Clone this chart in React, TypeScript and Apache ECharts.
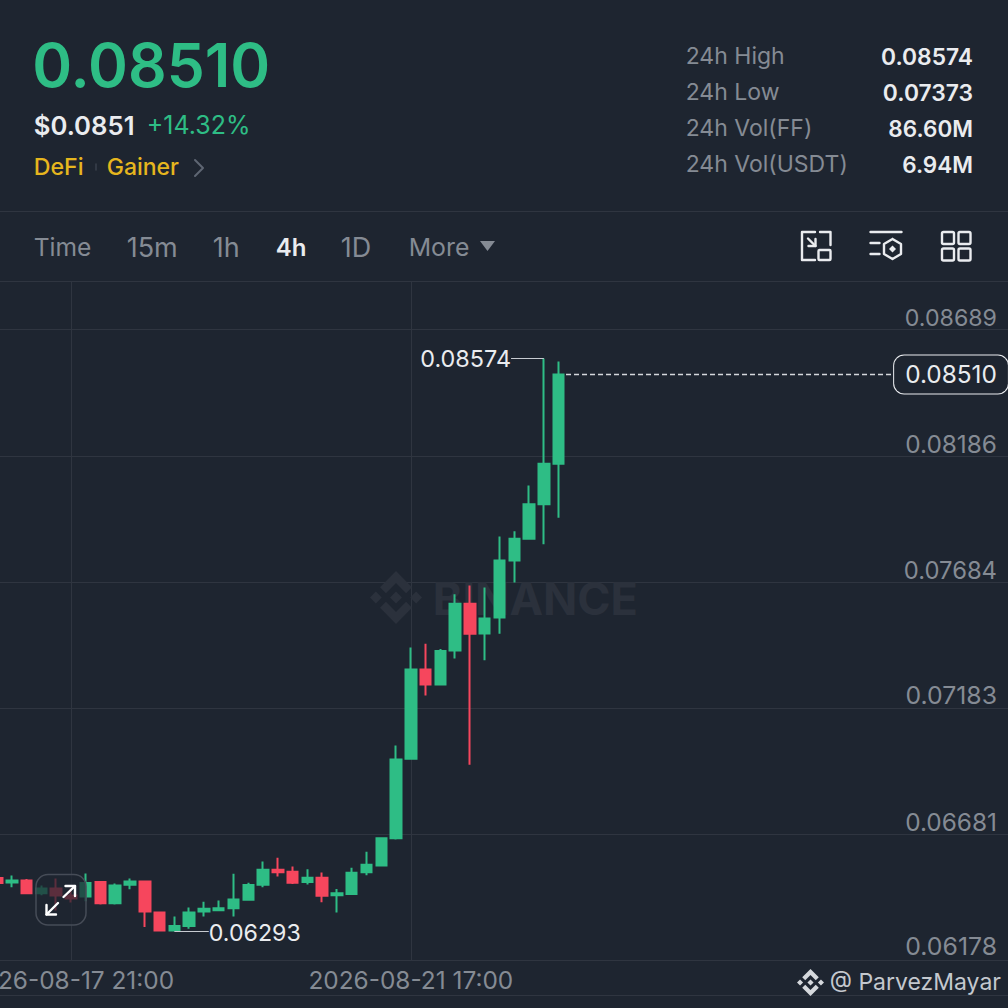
import React, { useEffect, useRef } from "react";
import * as echarts from "echarts";

const FONT = "Inter";
const BG = "#1e2530";
const UP = "#2ebd85";
const DOWN = "#f6465d";
const LINE = "#2f3540";
const MUTED = "#858b94";
const WHITE = "#eaecef";
const YELLOW = "#e6b61e";

// one 4h candle per entry; the first is at 2026-08-17 01:00
const opens = [
  0.06506, 0.06488, 0.06496, 0.06446, 0.06465, 0.06437, 0.06433, 0.0649, 0.06406, 0.06479,
  0.06492, 0.06369, 0.06297, 0.06315, 0.06373, 0.06378, 0.06386, 0.0642, 0.06479, 0.06539,
  0.06531, 0.0649, 0.06507, 0.06438, 0.06443, 0.06529, 0.06556, 0.06664, 0.06981, 0.07336,
  0.07276, 0.07412, 0.07598, 0.07479, 0.07543, 0.0777, 0.07856, 0.07994, 0.08155,
];
const closes = [
  0.06486, 0.06496, 0.06446, 0.06465, 0.06437, 0.06425, 0.06486, 0.06406, 0.06476, 0.06492,
  0.06373, 0.06297, 0.06315, 0.06369, 0.06384, 0.06386, 0.06421, 0.06478, 0.06539, 0.06529,
  0.06487, 0.06507, 0.06436, 0.06446, 0.06527, 0.06559, 0.06664, 0.06978, 0.07336, 0.07276,
  0.0741, 0.07598, 0.07478, 0.07539, 0.0777, 0.07856, 0.07994, 0.08155, 0.0851,
];
const lows = [
  0.06486, 0.06469, 0.06443, 0.06438, 0.06377, 0.06409, 0.06414, 0.06401, 0.06401, 0.06462,
  0.06311, 0.06295, 0.06293, 0.06304, 0.06353, 0.06374, 0.06353, 0.06417, 0.06469, 0.06512,
  0.06482, 0.0648, 0.0641, 0.06369, 0.0644, 0.06517, 0.06552, 0.0666, 0.06978, 0.07233,
  0.07275, 0.0738, 0.06957, 0.07373, 0.07478, 0.07682, 0.07853, 0.07834, 0.0794,
];
const highs = [
  0.06506, 0.06516, 0.06502, 0.06476, 0.06504, 0.06465, 0.06524, 0.06492, 0.06484, 0.06504,
  0.06494, 0.06373, 0.06353, 0.06389, 0.06412, 0.06417, 0.06523, 0.06487, 0.06572, 0.06587,
  0.06552, 0.06541, 0.06528, 0.06463, 0.06547, 0.06611, 0.06668, 0.07034, 0.07424, 0.07438,
  0.07418, 0.07635, 0.0767, 0.07662, 0.07865, 0.07886, 0.08068, 0.08574, 0.08562,
];

const priceTicks = [0.06178, 0.06681, 0.07183, 0.07684, 0.08186, 0.08689];
const shownTimes: Record<number, string> = { 5: "2026-08-17 21:00", 28: "2026-08-21 17:00" };
const slotCount = 70;
const categories = Array.from({ length: slotCount }, (_, i) => shownTimes[i] ?? String(i));

const highIndex = 37;
const highLabelIndex = 34.78;
const lowIndex = 12;
const lowLabelIndex = 14.33;
const lastStartIndex = 38.5;
const lastLabelIndex = 60.7;
const lastIndex = 38;
const highPrice = 0.08574;
const lowPrice = 0.06293;
const lastPrice = 0.0851;

const statLabels = ["24h High", "24h Low", "24h Vol(FF)", "24h Vol(USDT)"];
const statValues = ["0.08574", "0.07373", "86.60M", "6.94M"];
const tabs = ["Time", "15m", "1h", "4h", "1D", "More"];
const tabX = [34, 127, 213, 276, 341, 409];
const tabSize = [24.6, 27, 27, 24, 27, 24.8];

const LOGO =
  "M7.34 10.08 12 5.42l4.66 4.66 2.71-2.71L12 0 4.63 7.37zM0 12l2.71-2.71L5.42 12l-2.71 2.71zm7.34 1.92L12 18.58l4.66-4.66 2.71 2.71L12 24l-7.37-7.37zM18.58 12l2.71-2.71L24 12l-2.71 2.71zM14.75 12 12 9.25 9.97 11.28l-.23.23-.49.49L12 14.75z";
echarts.graphic.registerShape("bnbLogo", echarts.graphic.extendPath(LOGO, {}) as any);

const t = (text: string, x: number, y: number, size: number, fill: string, extra: any = {}) => ({
  type: "text",
  x: extra.align ? x : x - 0.3,
  y,
  z: 50,
  silent: true,
  style: {
    text,
    fill,
    fontFamily: FONT,
    fontSize: size,
    fontWeight: extra.weight ?? 400,
    textAlign: extra.align ?? "left",
    textVerticalAlign: "middle",
    verticalAlign: "middle",
  },
});
const stroke = (color = WHITE, w = 2.4) => ({
  stroke: color,
  lineWidth: w,
  fill: "none",
  lineCap: "round",
  lineJoin: "round",
});
const pl = (points: number[][], style: any = stroke(), z = 50) => ({
  type: "polyline",
  z,
  silent: true,
  shape: { points },
  style,
});
const rr = (x: number, y: number, width: number, height: number, r: number, style: any = stroke(), z = 50) => ({
  type: "rect",
  z,
  silent: true,
  shape: { x, y, width, height, r },
  style,
});

const graphics: any[] = [
  // header
  t("0.08510", 32.5, 65, 60.5, UP, { weight: 600 }),
  t("$0.0851", 34, 125, 25.7, WHITE, { weight: 600 }),
  t("+14.32%", 147, 125, 25, UP),
  t("DeFi", 34, 167, 23.2, YELLOW, { weight: 500 }),
  t("Gainer", 107, 167, 23, YELLOW, { weight: 500 }),
  pl([[96, 164], [96, 170]], stroke("#3a414c", 1.5)),
  pl([[195, 160], [203, 168], [195, 176]], stroke("#5e6673", 2)),
  ...statLabels.map((s, i) => t(s, 686, 56 + i * 36, 23, MUTED)),
  ...statValues.map((s, i) => t(s, 973, 56 + i * 36, i < 2 ? 22.8 : 22.5, WHITE, { weight: 600, align: "right" })),
  pl([[0, 211.5], [1008, 211.5]], { stroke: LINE, lineWidth: 1 }),
  pl([[0, 281.5], [1008, 281.5]], { stroke: LINE, lineWidth: 1 }),
  pl([[0, 995.5], [1008, 995.5]], { stroke: LINE, lineWidth: 1 }),
  // tabs
  ...tabs.map((s, i) => t(s, tabX[i], 247, tabSize[i], s === "4h" ? WHITE : MUTED, { weight: s === "4h" ? 600 : 400 })),
  {
    type: "polygon",
    z: 50,
    silent: true,
    shape: { points: [[480, 241], [495, 241], [487.5, 251]] },
    style: { fill: MUTED },
  },
  // icon 1
  pl([[815, 232], [802, 232], [802, 260], [815, 260]]),
  pl([[820, 232], [830.5, 232], [830.5, 245]]),
  rr(818.5, 250, 12, 10, 1),
  pl([[808, 238.5], [815.5, 246]]),
  pl([[815.5, 239], [815.5, 246], [808.5, 246]]),
  // icon 2
  pl([[870.5, 232], [901.5, 232]]),
  pl([[870.5, 243], [879.5, 243]]),
  pl([[870.5, 254], [879.5, 254]]),
  pl([[892.5, 239], [901, 244], [901, 254], [892.5, 259], [884, 254], [884, 244], [892.5, 239]]),
  { type: "polygon", z: 50, silent: true, shape: { points: [[892.5, 245.5], [896, 249], [892.5, 252.5], [889, 249]] }, style: { fill: WHITE } },
  // icon 3
  rr(942, 232, 12, 12, 1.5),
  rr(958.5, 232, 12, 12, 1.5),
  rr(942, 248.5, 12, 12, 1.5),
  rr(958.5, 248.5, 12, 12, 1.5),
  // watermark
  { type: "bnbLogo", x: 370, y: 571, scaleX: 52 / 24, scaleY: 53 / 24, z: 1, silent: true, style: { fill: "#2b313c" } },
  { ...t("BINANCE", 433, 598, 45, "#2b313c", { weight: 700 }), z: 1 },
  // expand button
  rr(36, 874.5, 50, 50.5, 12, { fill: "rgba(30,37,48,0.72)", stroke: "#464c57", lineWidth: 1.5 }, 60),
  pl([[63.5, 897], [75, 886]], stroke("#ffffff", 2.4), 61),
  pl([[65.5, 886], [75, 886], [75, 896]], stroke("#ffffff", 2.4), 61),
  pl([[58, 903], [46.5, 914.5]], stroke("#ffffff", 2.4), 61),
  pl([[46.5, 905], [46.5, 914.5], [56, 914.5]], stroke("#ffffff", 2.4), 61),
  // credit
  { type: "bnbLogo", x: 797, y: 969, scaleX: 27 / 24, scaleY: 27 / 24, z: 50, silent: true, style: { fill: "#d5d8dc" } },
  t("@ ParvezMayar", 830, 982, 23, "#c4c8ce"),
];

const markLabel = (formatter: string, extra: any = {}) => ({
  show: true,
  position: "end",
  formatter,
  color: WHITE,
  fontFamily: FONT,
  fontSize: 23.4,
  distance: 0,
  ...extra,
});

const tickStyle = (size: number, raise = 0) => ({
  color: MUTED,
  fontFamily: FONT,
  fontSize: size,
  padding: [0, 0, raise, 0],
});

export default function App() {
  const ref = useRef<HTMLDivElement>(null);
  useEffect(() => {
    const chart = echarts.init(ref.current!, undefined, { renderer: "svg" });
    chart.setOption({
      animation: false,
      backgroundColor: BG,
      graphic: graphics,
      grid: { left: -3, top: 281.5, width: 1019.8, height: 679, containLabel: false, outerBoundsMode: "none" },
      xAxis: [
        {
          type: "category",
          data: categories,
          boundaryGap: false,
          axisLine: { show: false },
          axisTick: { show: false },
          splitLine: {
            show: true,
            interval: (i: number) => i in shownTimes,
            lineStyle: { color: LINE, width: 1 },
          },
          axisLabel: {
            interval: (i: number) => i in shownTimes,
            hideOverlap: false,
            color: MUTED,
            fontFamily: FONT,
            fontSize: 24.4,
            margin: 7,
          },
        },
        { type: "value", show: false, min: 0, max: slotCount - 1 },
      ],
      yAxis: {
        type: "value",
        position: "right",
        min: 0.06178,
        max: 0.0888,
        axisLine: { show: false },
        axisTick: { show: false, customValues: priceTicks },
        splitLine: { show: true, lineStyle: { color: LINE, width: 1 } },
        axisLabel: {
          inside: true,
          margin: 19.8,
          customValues: priceTicks,
          formatter: (v: number) => `{p${priceTicks.indexOf(v)}|${v.toFixed(5)}}`,
          rich: {
            p0: tickStyle(24.8, 2),
            p1: tickStyle(24.4),
            p2: tickStyle(24.8),
            p3: tickStyle(23.8),
            p4: tickStyle(24.4),
            p5: tickStyle(23.2),
          },
          color: MUTED,
          fontFamily: FONT,
          fontSize: 23.2,
          verticalAlign: "bottom",
        },
      },
      series: [
        {
          type: "candlestick",
          xAxisIndex: 0,
          barWidth: 11,
          itemStyle: {
            color: UP,
            color0: DOWN,
            borderColor: UP,
            borderColor0: DOWN,
            borderWidth: 2,
          },
          data: opens.map((o, i) => [o, closes[i], lows[i], highs[i]]),
        },
        {
          type: "line",
          xAxisIndex: 1,
          data: [[lastIndex, lastPrice]],
          showSymbol: false,
          lineStyle: { opacity: 0 },
          z: 10,
          markLine: {
            silent: true,
            animation: false,
            symbol: "none",
            lineStyle: { color: "#c7cbd1", type: "solid", width: 1.2 },
            data: [
              [
                { coord: [highIndex, highPrice], label: markLabel("0.08574") },
                { coord: [highLabelIndex, highPrice] },
              ],
              [
                { coord: [lowIndex, lowPrice], label: markLabel("0.06293", { offset: [0, 1.5], fontSize: 23.2 }) },
                { coord: [lowLabelIndex, lowPrice] },
              ],
              [
                {
                  coord: [lastStartIndex, lastPrice],
                  lineStyle: { color: "#d5d8dc", type: [5, 3], width: 1.4 },
                  label: markLabel("0.08510", {
                    fontSize: 24.4,
                    backgroundColor: BG,
                    borderColor: WHITE,
                    borderWidth: 1,
                    borderRadius: 10,
                    padding: [7, 11, 7, 11],
                  }),
                },
                { coord: [lastLabelIndex, lastPrice] },
              ],
            ],
          },
        },
      ],
    });
    return () => chart.dispose();
  }, []);
  return <div ref={ref} style={{ position: "fixed", left: 0, top: 0, width: 1008, height: 1008 }} />;
}
